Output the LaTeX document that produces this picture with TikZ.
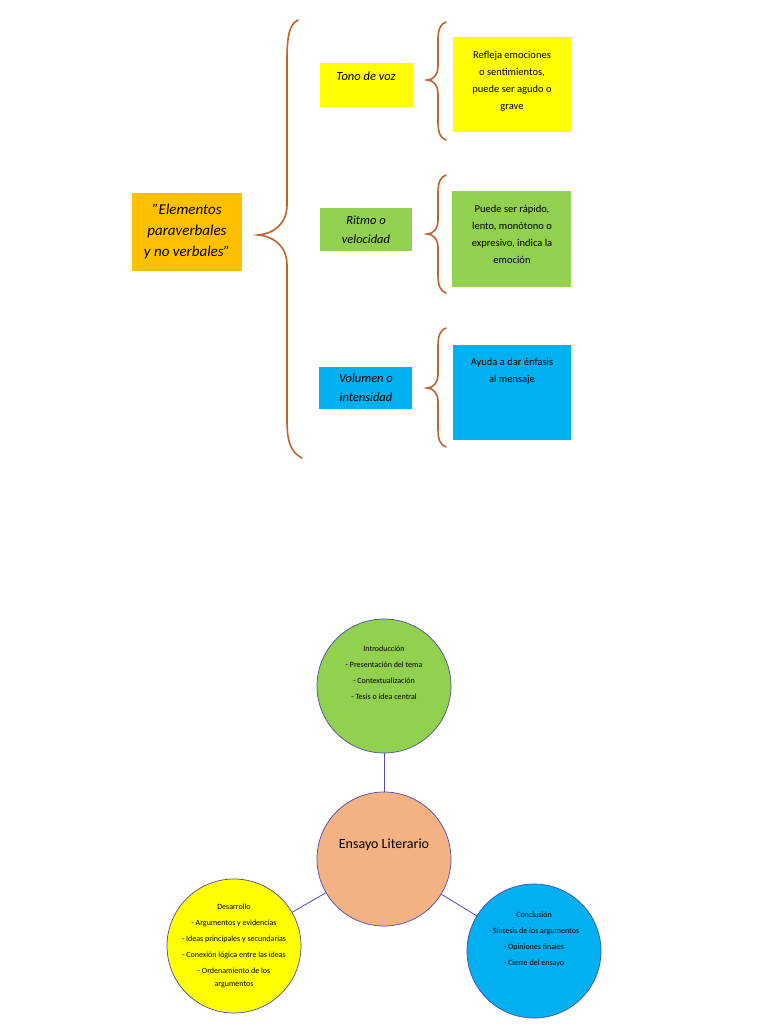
\documentclass[tikz,border=0pt]{standalone}
\usepackage{fontspec}
\setmainfont{Carlito}
\begin{document}
\begin{tikzpicture}[x=1pt,y=-1pt,
  box/.style={inner sep=0pt,anchor=north west},
  brc/.style={draw=brown!70!orange,line width=1.6pt,line cap=round},
  circ/.style={circle,draw=blue!50!black!70,line width=0.7pt,minimum size=134pt,inner sep=0pt,align=center,font=\fontsize{8}{16}\selectfont},
  link/.style={draw=blue!40!gray,line width=0.8pt}]
\useasboundingbox (0,0) rectangle (768,1024);
\definecolor{orng}{HTML}{FFC000}\definecolor{grn}{HTML}{92D050}
\definecolor{blu}{HTML}{00B0F0}\definecolor{yel}{HTML}{FFFF00}
\definecolor{salm}{HTML}{F4B183}\definecolor{brn}{HTML}{C0622A}
\tikzset{brc/.style={draw=brn,line width=1.6pt,line cap=round}}
% top part
\fill[orng] (132,193) rectangle (242,271);
\node (main) at (187,232) [align=center,font=\fontsize{15}{21}\selectfont\itshape] {"Elementos\\paraverbales\\y no verbales"};
\fill[yel] (320,63) rectangle (413,107);
\node (tono) at (366,76) [font=\fontsize{12.5}{16}\selectfont\itshape] {Tono de voz};
\fill[grn] (320,208) rectangle (412,251);
\node (ritmo) at (366,230) [align=center,font=\fontsize{12.5}{19}\selectfont\itshape] {Ritmo o\\velocidad};
\fill[blu] (319,367) rectangle (412,409);
\node (vol) at (366,388) [align=center,font=\fontsize{12.5}{19}\selectfont\itshape] {Volumen o\\intensidad};
\fill[yel] (453,37) rectangle (571,132);
\node (d1) at (512,48) [anchor=north,align=center,font=\fontsize{10.5}{17}\selectfont] {Refleja emociones\\o sentimientos,\\puede ser agudo o\\grave};
\fill[grn] (452,191) rectangle (571,287);
\node (d2) at (512,202) [anchor=north,align=center,font=\fontsize{10.5}{17}\selectfont] {Puede ser rápido,\\lento, monótono o\\expresivo, indica la\\emoción};
\fill[blu] (453,345) rectangle (571,440);
\node (d3) at (512,355) [anchor=north,align=center,font=\fontsize{10.5}{17}\selectfont] {Ayuda a dar énfasis\\al mensaje};
% big brace
\draw[brc] (298,20) .. controls (290,24) and (287,34) .. (287,60) -- (287,205) .. controls (287,225) and (272,234) .. (258,235)
  .. controls (272,236) and (287,245) .. (287,265) -- (287,420) .. controls (287,440) and (290,452) .. (302,458);
% small braces
\foreach \t/\m/\b in {22/80/140,175/234/293,328/388/447}{
\draw[brc] (446,\t) .. controls (440,\t+2) and (438,\t+8) .. (438,\t+18) -- (438,\m-14) .. controls (438,\m-5) and (433,\m) .. (427,\m)
  .. controls (433,\m) and (438,\m+5) .. (438,\m+14) -- (438,\b-18) .. controls (438,\b-8) and (440,\b-2) .. (446,\b);
}
% bottom part
\node[circ,fill=grn] (intro) at (384,686) {Introducción\\- Presentación del tema\\- Contextualización\\- Tesis o idea central\\[10pt]};
\node[circ,fill=salm,font=\fontsize{14}{16}\selectfont] (ens) at (384,859) {Ensayo Literario\\[14pt]};
\node[circ,fill=yel,font=\fontsize{8}{13}\selectfont] (des) at (234,946) {Desarrollo\\[3pt]- Argumentos y evidencias\\[3pt]- Ideas principales y secundarias\\[3pt]- Conexión lógica entre las ideas\\[3pt]- Ordenamiento de los\\argumentos};
\node[circ,fill=blu] (con) at (534,951) {Conclusión\\- Síntesis de los argumentos\\- Opiniones finales\\- Cierre del ensayo\\[8pt]};
\draw[link] (intro) -- (ens);
\draw[link] (ens) -- (des);
\draw[link] (ens) -- (con);
\end{tikzpicture}
\end{document}
